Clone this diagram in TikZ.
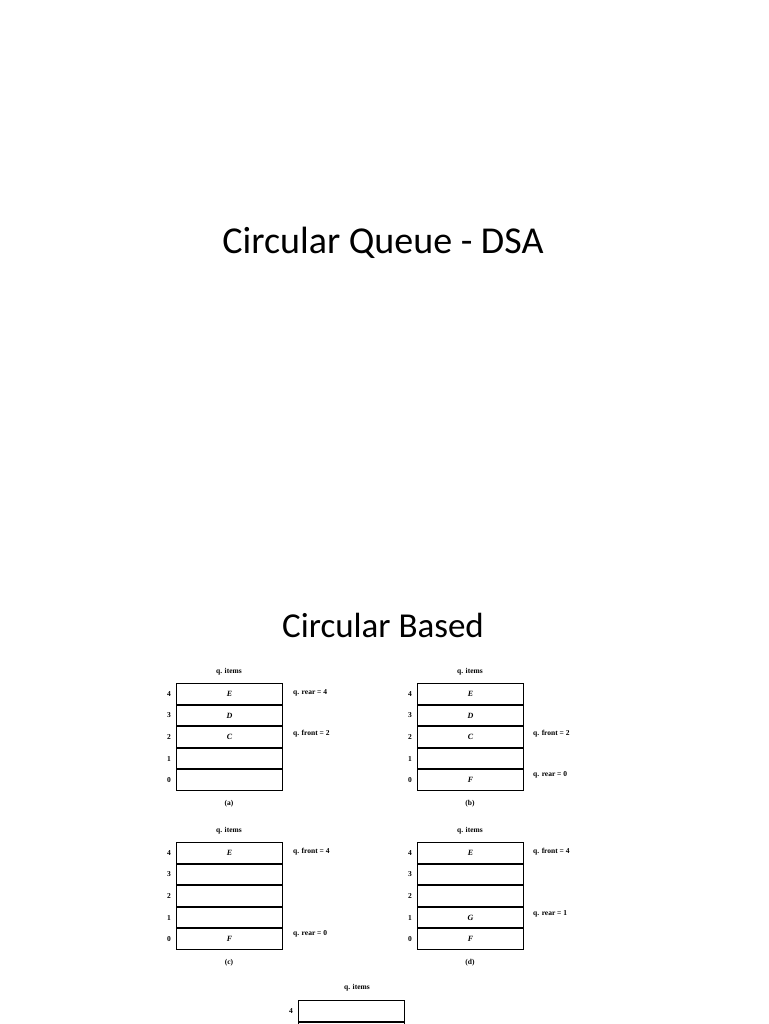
\documentclass[tikz,border=0pt]{standalone}
\usepackage{fontspec}
\setmainfont{Liberation Serif}
\newfontfamily\calfont{Carlito}
\begin{document}
\begin{tikzpicture}[x=1pt,y=-1pt,
  cell/.style={draw,line width=1pt,minimum width=106pt,minimum height=20.6pt,inner sep=0pt,font=\bfseries\itshape\fontsize{8}{8}\selectfont},
  lab/.style={font=\bfseries\fontsize{7.5}{8}\selectfont,inner sep=0pt},
  ttl/.style={font=\calfont\fontsize{38}{40}\selectfont}]
\useasboundingbox (0,0) rectangle (768,1024);
\node[ttl] (title) at (383,243) {Circular Queue - DSA};
\node[ttl,font=\calfont\fontsize{35}{38}\selectfont] (sub) at (383,625) {Circular Based};
\foreach \px/\py/\name/\cfour/\cthree/\ctwo/\cone/\czero/\cap in
  {176/683/a/E/D/C//{}/(a), 417/683/b/E/D/C//F/(b), 176/842/c/E////F/(c), 417/842/d/E///G/F/(d)}{
  \node[lab] (\name-t) at (\px+53,\py-11) {q. items};
  \node[cell,anchor=north west] (\name4) at (\px,\py) {\cfour};
  \node[cell,anchor=north] (\name3) at (\name4.south) {\cthree};
  \node[cell,anchor=north] (\name2) at (\name3.south) {\ctwo};
  \node[cell,anchor=north] (\name1) at (\name2.south) {\cone};
  \node[cell,anchor=north] (\name0) at (\name1.south) {\czero};
  \foreach \i in {0,...,4}{\node[lab,anchor=east] (\name i\i) at ([xshift=-5pt]\name\i.west) {\i};}
  \node[lab] (\name-c) at (\px+53,\py+121) {\cap};
}
\node[lab,anchor=west] (ra) at (293,693) {q. rear = 4};
\node[lab,anchor=west] (fa) at (293,734) {q. front = 2};
\node[lab,anchor=west] (fb) at (533,734) {q. front = 2};
\node[lab,anchor=west] (rb) at (533,775) {q. rear = 0};
\node[lab,anchor=west] (fc) at (293,852) {q. front = 4};
\node[lab,anchor=west] (rc) at (293,934) {q. rear = 0};
\node[lab,anchor=west] (fd) at (533,852) {q. front = 4};
\node[lab,anchor=west] (rd) at (533,914) {q. rear = 1};
\node[lab] (e-t) at (357,988) {q. items};
\node[cell,anchor=north west] (e4) at (298,1000) {};
\node[cell,anchor=north] (e3) at (e4.south) {};
\node[lab,anchor=east] (ei4) at ([xshift=-5pt]e4.west) {4};
\end{tikzpicture}
\end{document}
